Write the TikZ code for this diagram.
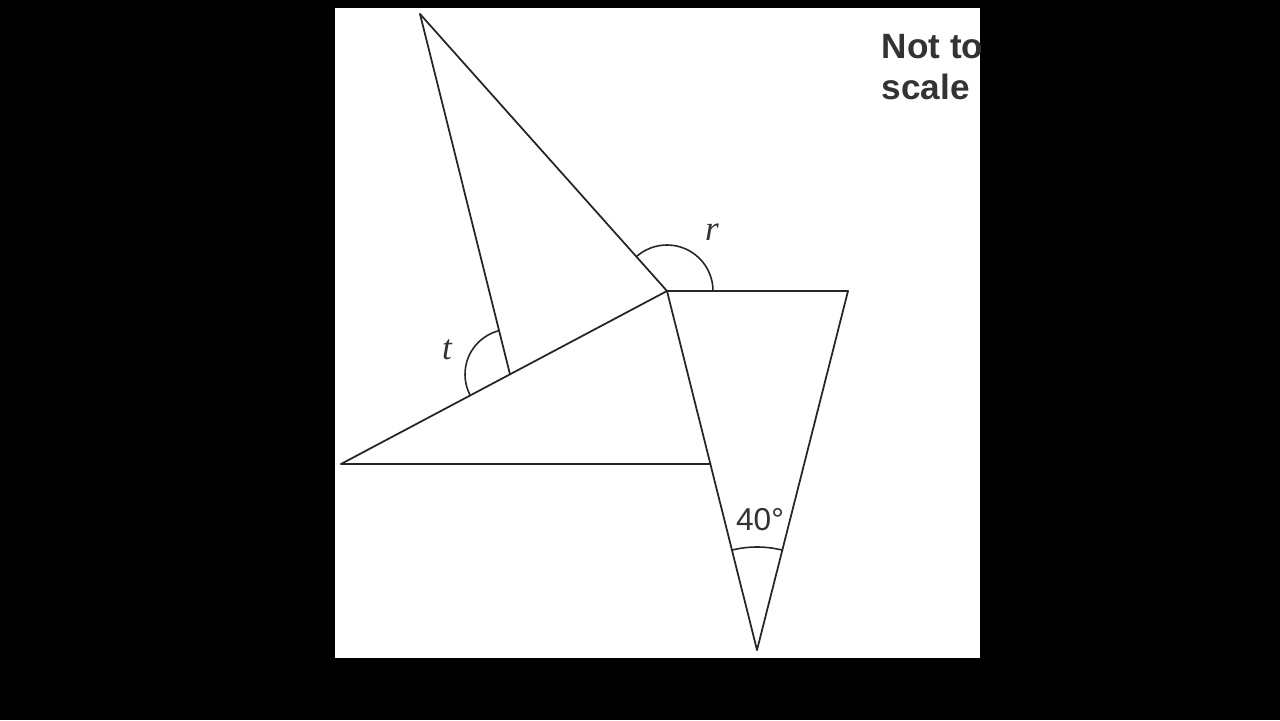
\documentclass[tikz,border=0pt]{standalone}
\usepackage{fontspec}
\setmainfont{Liberation Sans}
\newfontfamily\labelfont{Liberation Serif}
\usetikzlibrary{calc}

\begin{document}
\begin{tikzpicture}[line width=1pt,line cap=round,line join=round,
	side/.style={draw=black!85},
	angmark/.style={draw=black!85,line width=0.9pt},
	anglabel/.style={font=\labelfont\itshape\fontsize{20}{24}\selectfont,text=black!80},
	deglabel/.style={font=\fontsize{18}{22}\selectfont,text=black!80}]

\fill[black] (0,0) rectangle (25.6,14.4);
\fill[white] (6.70,1.24) rectangle (19.60,14.24);

\coordinate (A) at (8.40,14.12);
\coordinate (O) at (13.34,8.58);
\coordinate (R) at (16.96,8.58);
\coordinate (B) at (15.14,1.40);
\coordinate (L) at (6.82,5.12);
\coordinate (F) at ($(O)!0.4816!(L)$);
\coordinate (M) at ($(O)!0.4819!(B)$);

	\path[side] (A)  edge		(O)
								edge		(F)
						(O)  edge		(R)
								edge		(B)
								edge		(L)
						(R)  edge		(B)
						(L)  edge		(M);

	\draw[angmark] ([shift={(0:0.92)}]O) arc[start angle=0,end angle=131.7,radius=0.92];
	\draw[angmark] ([shift={(104:0.9)}]F) arc[start angle=104,end angle=208,radius=0.9];
	\draw[angmark] ([shift={(75.8:2.06)}]B) arc[start angle=75.8,end angle=104.1,radius=2.06];

\node[anglabel]   (r)  at (14.24,9.76)      {r};
\node[anglabel]   (t)  at (8.94,7.40)       {t};
\node[deglabel]   (d)  at (15.20,4.00)      {40\textdegree};

\begin{scope}
	\clip (6.70,1.24) rectangle (19.60,14.24);
	\node[anchor=base west,inner sep=0pt,align=left,text=black!80,
		font=\bfseries\fontsize{20}{23.8}\selectfont] (scale) at (17.62,12.40) {Not to\\scale};
\end{scope}

\end{tikzpicture}
\end{document}
